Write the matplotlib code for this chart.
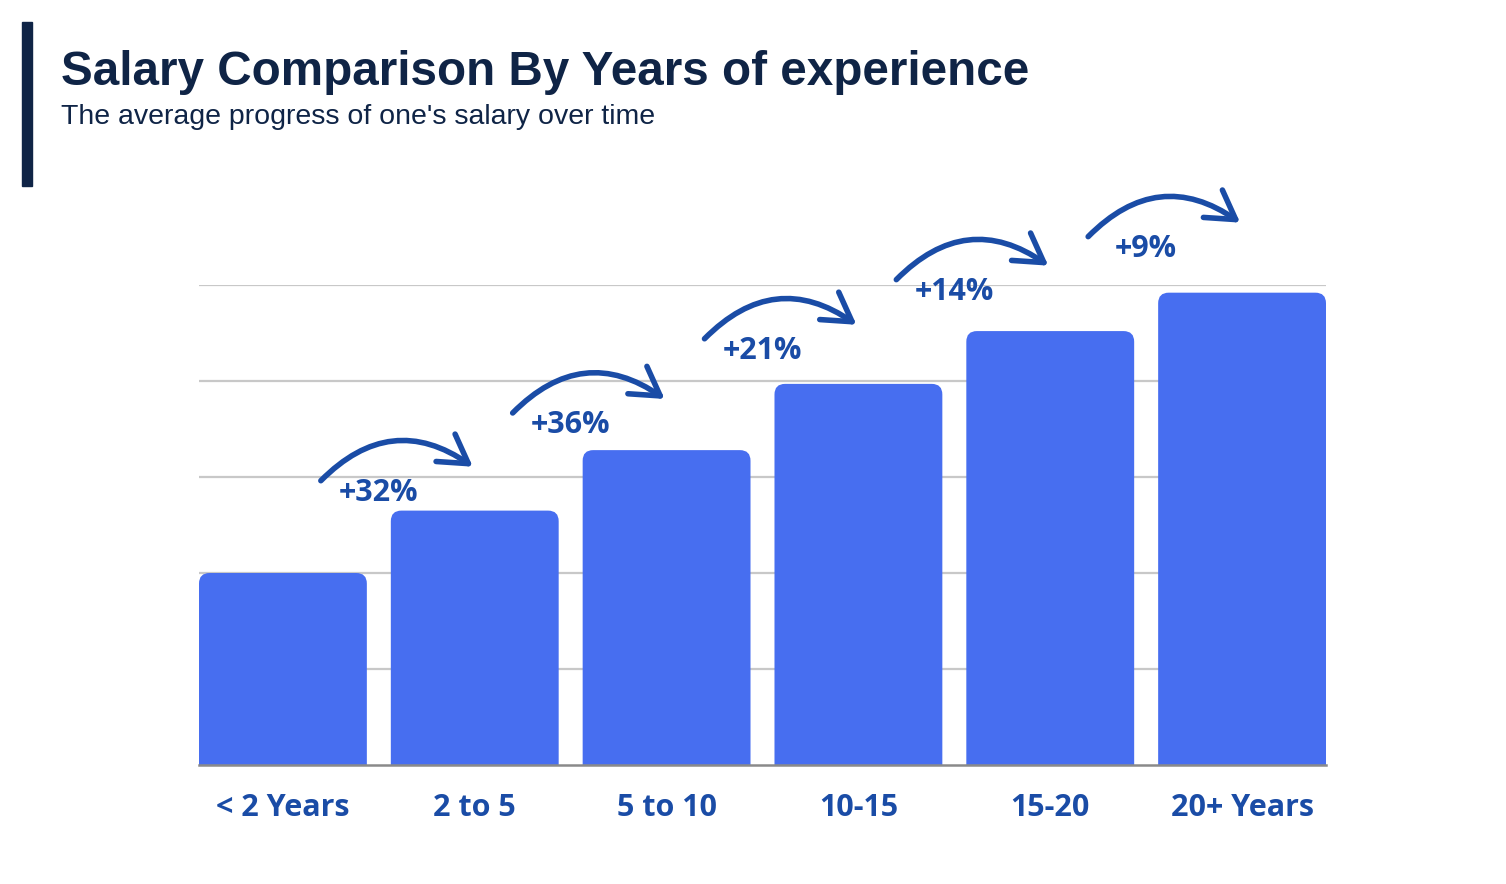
import matplotlib
matplotlib.use("Agg")
import matplotlib.pyplot as plt
from matplotlib.patches import FancyBboxPatch
from matplotlib.transforms import offset_copy

# data (grid units, bars are relative salary)
categories = ["< 2 Years", "2 to 5", "5 to 10", "10-15", "15-20", "20+ Years"]
salary = [2.0, 2.65, 3.28, 3.97, 4.52, 4.92]
growth = ["+32%", "+36%", "+21%", "+14%", "+9%"]

NAVY = "#0f2446"
BAR = "#476ef0"
LABEL = "#1a4ca6"

W, H = 1506, 884
fig = plt.figure(figsize=(W / 100, H / 100), dpi=100)
fig.patch.set_facecolor("white")

# axes box in pixels: x 199..1326, y 285..765
ax = fig.add_axes([199 / W, 1 - 765 / H, (1326 - 199) / W, (765 - 285) / H])
ax.set_xlim(-0.4375, len(categories) - 0.5625)
ax.set_ylim(0, 5)

for y in range(1, 6):
    ax.axhline(y, color="#c8c8c8", lw=1.6, zorder=0)

bars = ax.bar(range(len(categories)), salary, width=0.875, color=BAR, alpha=0)
for b in bars:
    # rounded top corners; bottom sticks out below the axis and gets clipped
    p = FancyBboxPatch((b.get_x(), -0.5), b.get_width(), b.get_height() + 0.5,
                       boxstyle="round,pad=0,rounding_size=0.055",
                       mutation_aspect=2.0, fc=BAR, ec="none", zorder=2)
    ax.add_patch(p)

ax.axhline(0, color="#8a8a8a", lw=1.8, zorder=3, clip_on=False)

for s in ax.spines.values():
    s.set_visible(False)
ax.set_yticks([])
ax.set_xticks(range(len(categories)))
ax.set_xticklabels(categories, family="Open Sans", fontweight="bold",
                   fontsize=22, color=LABEL)
ax.tick_params(axis="x", length=0, pad=20)

# growth labels with curved arrows between neighbouring bars
for i, txt in enumerate(growth):
    xm = i + 0.5
    ly = salary[i + 1] * 1.12 - 0.215
    ax.text(xm, ly, txt, ha="center", va="baseline", family="Open Sans",
            fontweight="bold", fontsize=22, color=LABEL, clip_on=False)
    start = offset_copy(ax.transData, fig=fig, x=-58, y=20, units="dots")
    end = offset_copy(ax.transData, fig=fig, x=94, y=34, units="dots")
    ax.annotate("", xy=(xm, ly), xycoords=end, xytext=(xm, ly), textcoords=start,
                annotation_clip=False,
                arrowprops=dict(arrowstyle="->,head_length=1.0,head_width=0.6",
                                connectionstyle="arc3,rad=-0.42",
                                color=LABEL, lw=4, mutation_scale=20,
                                shrinkA=0, shrinkB=0, capstyle="round",
                                joinstyle="round"))

# header
fig.patches.append(plt.Rectangle((22 / W, 1 - 186 / H), 10 / W, 164 / H,
                                 transform=fig.transFigure, color=NAVY))
fig.text(61 / W, 1 - 85 / H, "Salary Comparison By Years of experience",
         family="Liberation Sans", fontweight="bold", fontsize=34.3,
         color=NAVY, va="baseline")
fig.text(61 / W, 1 - 124 / H, "The average progress of one's salary over time",
         family="Liberation Sans", fontsize=20.5, color=NAVY, va="baseline")

fig.savefig("out.png", dpi=100)
